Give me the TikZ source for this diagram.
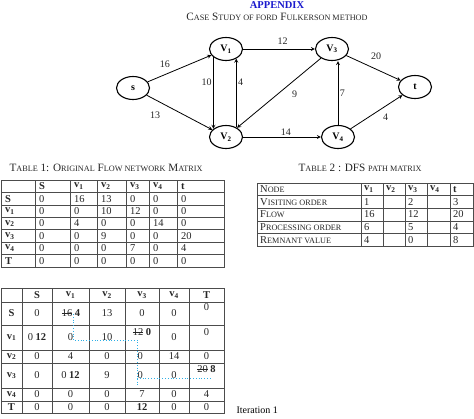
\documentclass[tikz,border=0pt]{standalone}
\usepackage{fontspec}
\setmainfont{Liberation Serif}
\usepackage{xcolor}
\usetikzlibrary{shapes.geometric, arrows, positioning}
\definecolor{apxblue}{RGB}{25,25,205}
\definecolor{pathblue}{RGB}{45,175,230}
\newcommand{\smc}[1]{{\fontsize{8.2pt}{9pt}\selectfont #1}}
\newcommand{\bv}[1]{\textbf{v\textsubscript{#1}}}
\newsavebox\strkbox
\newcommand{\strk}[1]{\sbox\strkbox{#1}\rlap{\rule[0.3em]{\wd\strkbox}{0.5pt}}\usebox\strkbox\hspace{0.25em}}
\tikzstyle{vertex} = [ellipse, draw=black, line width=1.1pt, minimum width=33pt, minimum height=23pt,
                      inner sep=0pt, font=\fontsize{10}{11}\selectfont\bfseries]
\tikzstyle{arrow}  = [line width=0.8pt,->,>=stealth]
\tikzstyle{elabel} = [font=\fontsize{10}{11}\selectfont, text=black!85, inner sep=1.5pt]
\tikzstyle{grid}   = [draw=black!70, line width=0.6pt]
\tikzstyle{cell}   = [font=\fontsize{10.5}{11}\selectfont, inner sep=0pt, text=black!85]
\tikzstyle{caption}= [font=\fontsize{11.2}{12}\selectfont, text=black!85]
\tikzstyle{path}   = [draw=pathblue, line width=0.8pt, dotted]

\begin{document}
\begin{tikzpicture}[x=1pt, y=-1pt, node distance=1cm, on grid]
  \useasboundingbox (0,0) rectangle (474,418);
  % title
  \node (title) at (277,5) {\fontsize{10.5}{11}\selectfont\color{apxblue}\textbf{APPENDIX}};
  \node (subtitle) [caption] at (277,17) {C\smc{ASE} S\smc{TUDY OF FORD} F\smc{ULKERSON METHOD}};
  % flow network
  \node (s)  [vertex] at (133,88) {s};
  \node (v1) [vertex, above right=39pt and 93pt of s] {V\textsubscript{1}};
  \node (v2) [vertex, below=88pt of v1] {V\textsubscript{2}};
  \node (v3) [vertex, right=106pt of v1] {V\textsubscript{3}};
  \node (v4) [vertex, right=112pt of v2] {V\textsubscript{4}};
  \node (t)  [vertex, below right=38pt and 83pt of v3] {t};
  \draw [arrow] (s) -- node[elabel, pos=0.4, above left=2pt] {16} (v1);
  \draw [arrow] (s) -- node[elabel, pos=0.3, below left=6pt] {13} (v2);
  \draw [arrow] (v1.213) -- node[elabel, pos=0.35, left] {10} (v2.147);
  \draw [arrow] (v2.43) -- node[elabel, pos=0.65, right] {4} (v1.317);
  \draw [arrow] (v1) -- node[elabel, pos=0.55, above=3pt] {12} (v3);
  \draw [arrow] (v3) -- node[elabel, pos=0.4, below right=4pt] {9} (v2);
  \draw [arrow] (v2) -- node[elabel, pos=0.55, above] {14} (v4);
  \draw [arrow] (v4) -- node[elabel, right] {7} (v4 |- v3.south);
  \draw [arrow] (v3) -- node[elabel, pos=0.55, above=8pt] {20} (t);
  \draw [arrow] (v4) -- node[elabel, pos=0.55, below right=3pt] {4} (t);

  % table 1
  \node (cap1) [caption, anchor=west] at (6,168) {T\smc{ABLE} 1: O\smc{RIGINAL} F\smc{LOW NETWORK} M\smc{ATRIX}};
  \draw [grid] (1,180) rectangle (224,267);
  \foreach \x in {35,70,97,126,149,177} \draw [grid] (\x,180) -- (\x,267);
  \foreach \i in {1,...,6} \draw [grid] (1,180+12.43*\i) -- (224,180+12.43*\i);
  \foreach [count=\j] \h in {\textbf{S},\bv{1},\bv{2},\bv{3},\bv{4},\textbf{t}} {
    \pgfmathsetmacro\cx{{35,70,97,126,149,177}[\j-1]+4}
    \node (a-0-\j) [cell, anchor=west] at (\cx,186.2) {\h};
  }
  \foreach [count=\i] \lab in {\textbf{S},\bv{1},\bv{2},\bv{3},\bv{4},\textbf{T}}
    \node (a-\i-0) [cell, anchor=west] at (5,186.2+12.43*\i) {\lab};
  \foreach [count=\i] \row in {{0,16,13,0,0,0},{0,0,10,12,0,0},{0,4,0,0,14,0},
                               {0,0,9,0,0,20},{0,0,0,7,0,4},{0,0,0,0,0,0}} {
    \foreach [count=\j] \v in \row {
      \pgfmathsetmacro\cx{{35,70,97,126,149,177}[\j-1]+4}
      \node (a-\i-\j) [cell, anchor=west] at (\cx,186.2+12.43*\i) {\v};
    }
  }

  % table 2
  \node (cap2) [caption] at (360,168) {T\smc{ABLE} 2 : DFS \smc{PATH MATRIX}};
  \draw [grid] (257,183) rectangle (473,246);
  \foreach \x in {361,383,405,427,450} \draw [grid] (\x,183) -- (\x,246);
  \foreach \i in {1,...,4} \draw [grid] (257,183+12.6*\i) -- (473,183+12.6*\i);
  \foreach [count=\i from 0] \row in {{N\smc{ODE},\bv{1},\bv{2},\bv{3},\bv{4},\textbf{t}},
                                      {V\smc{ISITING ORDER},1,,2,,3},
                                      {F\smc{LOW},16,,12,,20},
                                      {P\smc{ROCESSING ORDER},6,,5,,4},
                                      {R\smc{EMNANT VALUE},4,,0,,8}} {
    \foreach [count=\j] \v in \row {
      \pgfmathsetmacro\cx{{257,361,383,405,427,450}[\j-1]+3}
      \node (b-\i-\j) [cell, anchor=west] at (\cx,189.3+12.6*\i) {\v};
    }
  }

  % table 3 (iteration 1)
  \draw [grid] (1,288) rectangle (224,413);
  \foreach \x in {22,52,89,125,159,189} \draw [grid] (\x,288) -- (\x,413);
  \foreach \y in {302,325,350,363,388,401} \draw [grid] (1,\y) -- (224,\y);
  \foreach [count=\j] \h in {\textbf{S},\bv{1},\bv{2},\bv{3},\bv{4},\textbf{T}} {
    \pgfmathsetmacro\cx{{37,70.5,107,142,174,206.5}[\j-1]}
    \node (c-0-\j) [cell] at (\cx,295) {\h};
  }
  \foreach [count=\i] \lab in {\textbf{S},\bv{1},\bv{2},\bv{3},\bv{4},\textbf{T}} {
    \pgfmathsetmacro\cy{{313.5,337.5,356.5,375.5,394.5,407}[\i-1]}
    \node (c-\i-0) [cell] at (11.5,\cy) {\lab};
  }
  \foreach [count=\i] \row in {{0,,13,0,0,},{0 \textbf{12},0,10,,0,},{0,4,0,,14,0},
                               {0,0 \textbf{12},9,,,},{0,0,0,7,0,4},{0,0,0,\textbf{12},0,0}} {
    \foreach [count=\j] \v in \row {
      \pgfmathsetmacro\cx{{37,70.5,107,142,174,206.5}[\j-1]}
      \pgfmathsetmacro\cy{{313.5,337.5,356.5,375.5,394.5,407}[\i-1]}
      \node (c-\i-\j) [cell] at (\cx,\cy) {\v};
    }
  }
  \node (c-1-2) [cell] at (71,313.5) {\strk{16}\textbf{4}};
  \node (c-1-6) [cell] at (206.5,307) {0};
  \node (c-2-4) [cell] at (142,332) {\strk{12}\textbf{0}};
  \node (c-2-6) [cell] at (206.5,332) {0};
  \node (c-3-4) [cell, anchor=west] at (137.5,356.5) {0};
  \node (c-4-4) [cell, anchor=west] at (137.5,375.5) {0};
  \node (c-4-5) [cell] at (174,375.5) {0};
  \node (c-4-6) [cell] at (206.5,369) {\strk{20}\textbf{8}};
  \draw [path] (73,314) -- (73,340) -- (137,340) -- (137,385);
  \draw [path] (137,378) -- (212,378);
  \node (iter) [anchor=west, font=\fontsize{10}{11}\selectfont] at (233,410) {Iteration 1};
\end{tikzpicture}
\end{document}
